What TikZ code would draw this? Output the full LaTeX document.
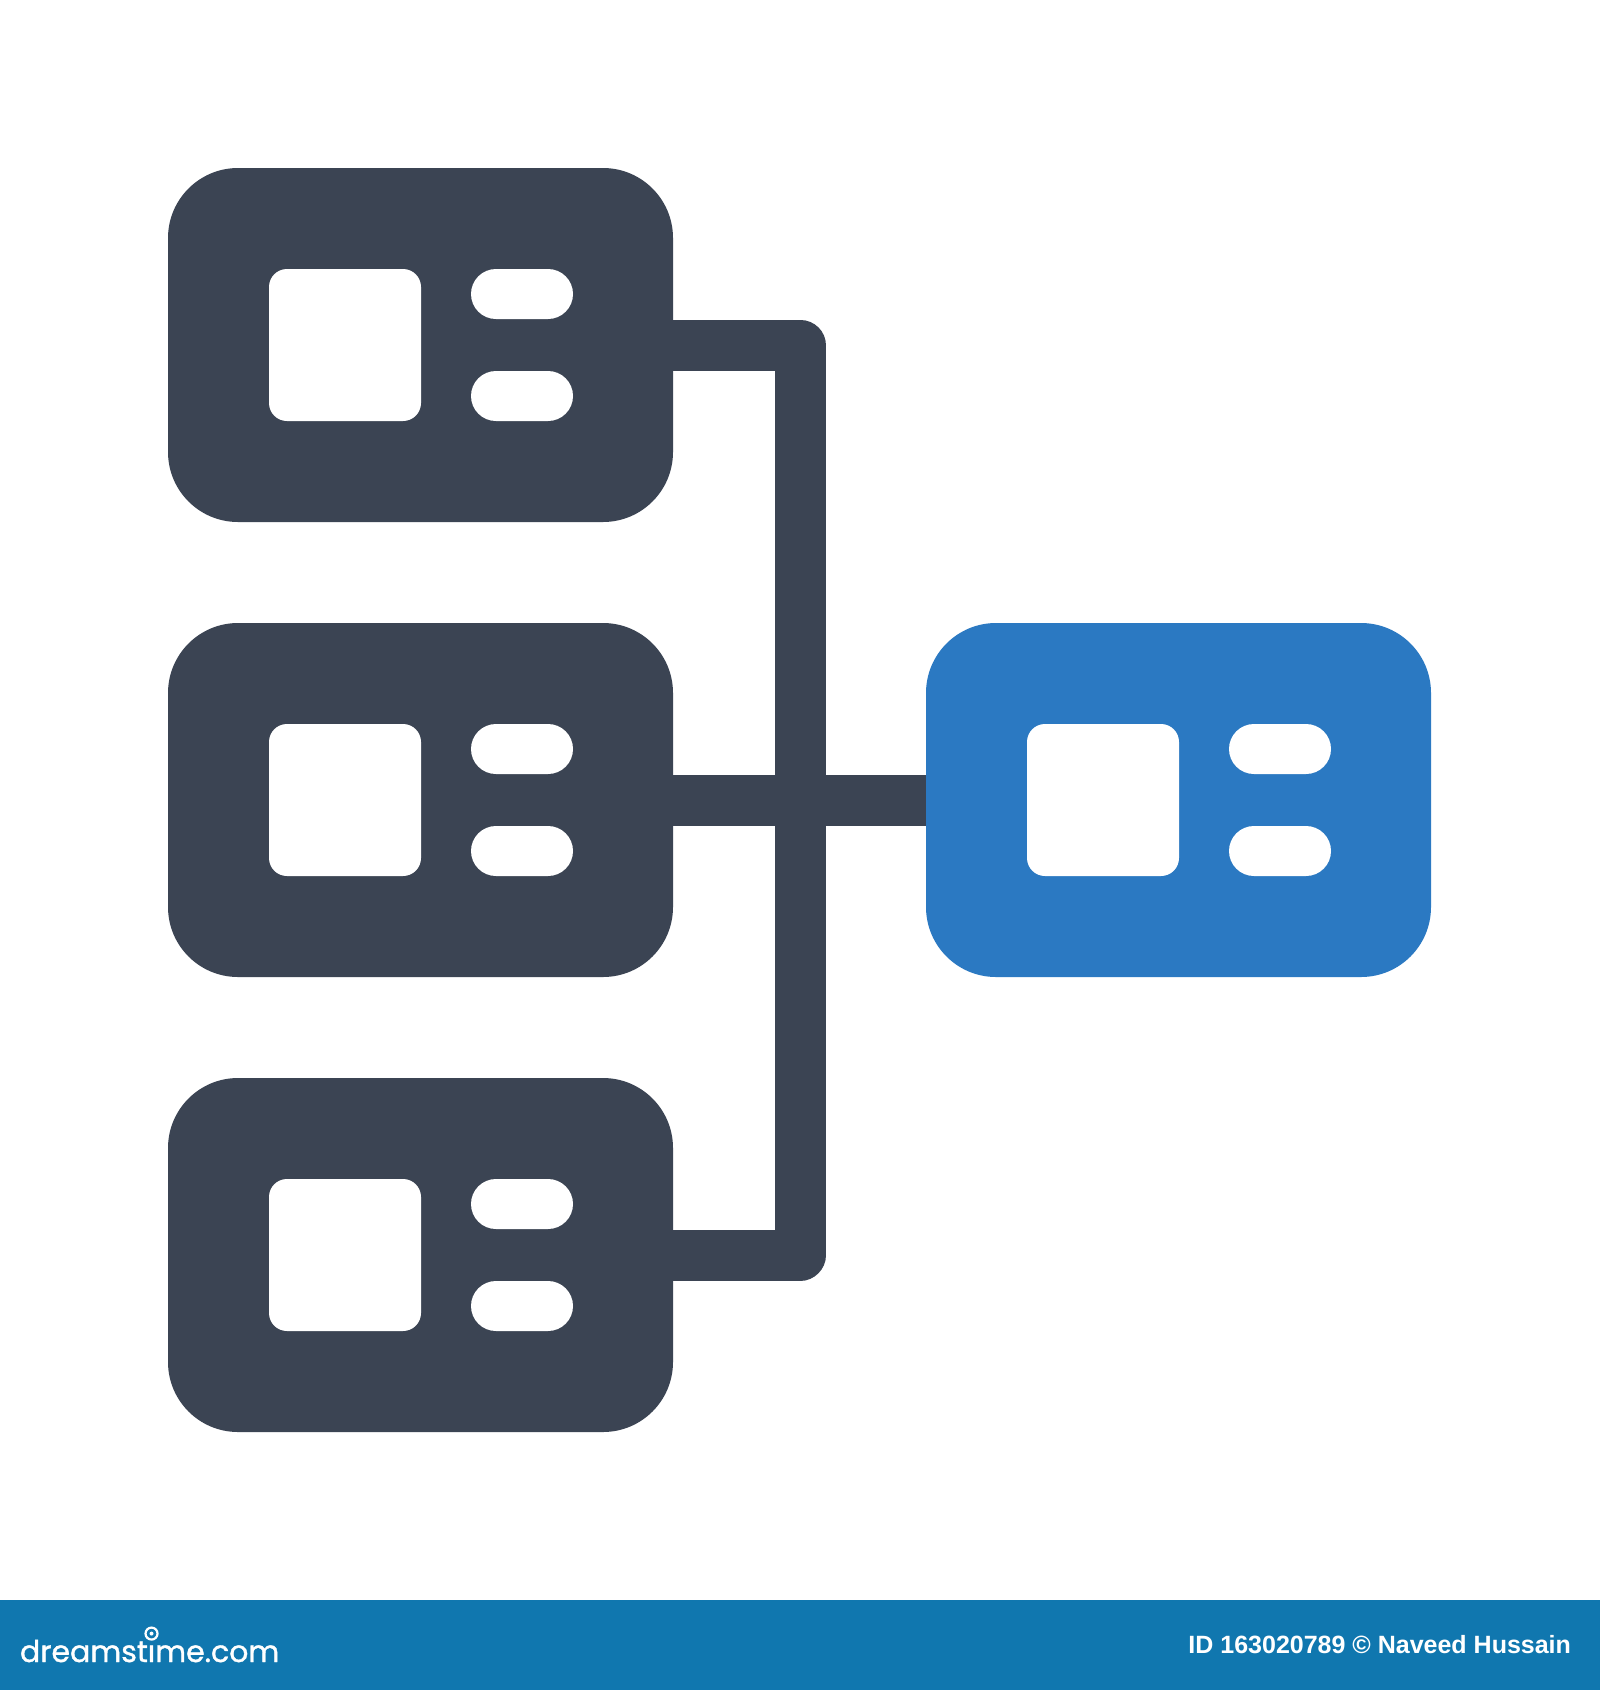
\documentclass[tikz,border=0pt]{standalone}
\usepackage{fontspec}
\newfontface\logofont{Poppins}[FakeBold=1.2]
\newfontfamily\credfont{Liberation Sans}
\definecolor{slate}{HTML}{3B4453}
\definecolor{iconblue}{HTML}{2B79C2}
\definecolor{bannerblue}{HTML}{1077AF}
\begin{document}
\begin{tikzpicture}[x=1pt,y=-1pt,
  card/.style={rounded corners=70pt, minimum width=505pt, minimum height=354pt, inner sep=0pt, outer sep=0pt},
  slot/.style={fill=white, rounded corners=18pt, minimum width=152pt, minimum height=152pt, inner sep=0pt, outer sep=0pt},
  pill/.style={fill=white, rounded corners=25pt, minimum width=102pt, minimum height=50pt, inner sep=0pt, outer sep=0pt},
  link/.style={draw=slate, line width=51pt, line join=round},
  bannertext/.style={inner sep=0pt, outer sep=0pt, text=white},
  logotext/.style={bannertext, anchor=base west, font=\logofont\fontsize{30}{30}\selectfont}]
\useasboundingbox (0,0) rectangle (1600,1690);
\fill[white] (0,0) rectangle (1600,1690);
% cards
\node[card, fill=slate] (b1) at (420.5,345) {};
\node[card, fill=slate] (b2) at (420.5,800) {};
\node[card, fill=slate] (b3) at (420.5,1255) {};
\node[card, fill=iconblue] (hub) at (1178.5,800) {};
% connectors
\coordinate (jt) at (800,345);
\coordinate (jb) at (800,1255);
\draw[link] (b1.east) -- (jt) -- (jb) -- (b3.east);
\draw[link] (b2.east) -- (hub.west);
% card contents
\foreach \n in {b1,b2,b3,hub} {
  \node[slot] (\n-sq) at ([xshift=-75.5pt]\n.center) {};
  \node[pill] (\n-p1) at ([xshift=101.5pt,yshift=51pt]\n.center) {};
  \node[pill] (\n-p2) at ([xshift=101.5pt,yshift=-51pt]\n.center) {};
}
% banner
\fill[bannerblue] (0,1600) rectangle (1600,1690);
\node[logotext] (logoA) at (20,1662) {dreamst};
\node[logotext] (logoI) at (logoA.base east) {\char"0131};
\node[logotext] (logoB) at (logoI.base east) {me.com};
\draw[white, line width=2.2pt] ([yshift=12pt]logoI.north) circle (6pt);
\fill[white] ([yshift=12pt]logoI.north) circle (2pt);
\node[bannertext, anchor=base east, font=\credfont\bfseries\fontsize{25}{25}\selectfont] (credit) at (1571,1653) {ID 163020789 © Naveed Hussain};
\end{tikzpicture}
\end{document}
